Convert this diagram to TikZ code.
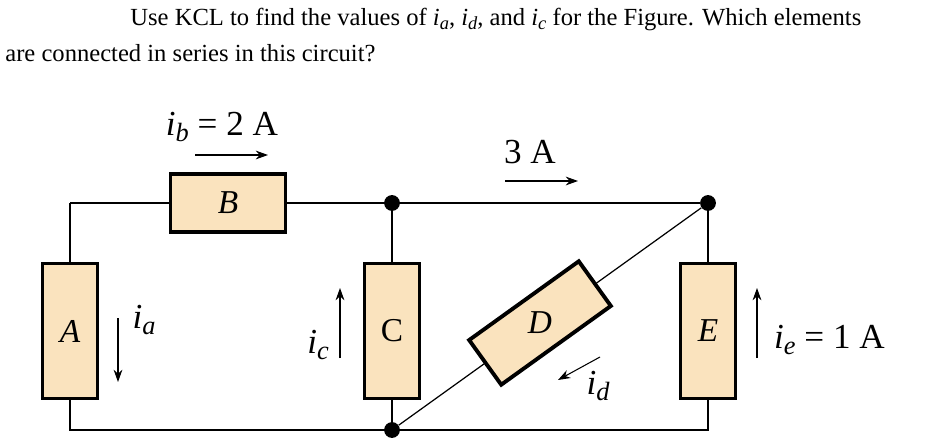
\documentclass[tikz,border=0pt]{standalone}
\usepackage{fontspec}
\setmainfont{Liberation Serif}
\usetikzlibrary{arrows.meta}
\newcommand{\cu}[1]{\textit{i}\raisebox{-0.35ex}{\scalebox{0.75}{\textit{#1}}}}
\begin{document}
\begin{tikzpicture}[x=0.02cm,y=-0.02cm,
  elem/.style={draw=black,line width=2.2pt,fill={rgb,255:red,250;green,227;blue,190},minimum width=1.1cm,minimum height=2.7cm,inner sep=0pt,font=\fontsize{19}{20}\selectfont\itshape},
  wire/.style={line width=0.7pt},
  cur/.style={-{Stealth[length=7pt,width=5pt]},line width=0.6pt},
  dotn/.style={circle,fill=black,inner sep=0pt,minimum size=9pt},
  lab/.style={font=\fontsize{20}{22}\selectfont},
  head/.style={font=\fontsize{14}{16}\selectfont,anchor=base west,inner sep=0pt}]
\useasboundingbox (0,0) rectangle (947,446);
\node[head] (t1) at (130,26) {Use KCL to find the values of \cu{a}, \cu{d}, and \cu{c} for the Figure. Which elements};
\node[head] (t2) at (5,62) {are connected in series in this circuit?};
\coordinate (tl) at (70,203);
\coordinate (bl) at (70,430);
\node[dotn] (n1) at (392,203) {};
\node[dotn] (n2) at (708,203) {};
\node[dotn] (n3) at (392,430) {};
\coordinate (br) at (708,430);
\draw[wire] (tl) -- (n1) -- (n2) -- (br) -- (n3) -- (bl) -- (tl);
\draw[wire] (n1) -- (n3);
\draw[wire] (n3) -- (n2);
\node[elem] (A) at (70,331) {A};
\node[elem,minimum width=2.3cm,minimum height=1.15cm] (B) at (228,203) {B};
\node[elem,font=\fontsize{19}{20}\selectfont\upshape] (C) at (392,331) {C};
\node[elem] (E) at (708,331) {E};
\node[elem,minimum width=2.7cm,minimum height=1.1cm,rotate=35.7] (D) at (540,323) {\rotatebox{-35.7}{D}};
\coordinate (a1) at (118,318); \coordinate (a2) at (118,382);
\draw[cur] (a1) -- (a2);
\node[lab] (la) at (144,320) {\cu{a}};
\coordinate (c1) at (340,358); \coordinate (c2) at (340,288);
\draw[cur] (c1) -- (c2);
\node[lab] (lc) at (318,345) {\cu{c}};
\coordinate (e1) at (757,358); \coordinate (e2) at (757,288);
\draw[cur] (e1) -- (e2);
\node[lab,anchor=west] (le) at (768,340) {\cu{e} = 1 A};
\coordinate (b1) at (195,155); \coordinate (b2) at (268,155);
\draw[cur] (b1) -- (b2);
\node[lab] (lb) at (222,127) {\cu{b} = 2 A};
\coordinate (f1) at (505,181); \coordinate (f2) at (578,181);
\draw[cur] (f1) -- (f2);
\node[lab] (l3) at (530,152) {3 A};
\coordinate (d1) at (600,357); \coordinate (d2) at (558,380);
\draw[cur] (d1) -- (d2);
\node[lab] (ld) at (598,386) {\cu{d}};
\end{tikzpicture}
\end{document}
